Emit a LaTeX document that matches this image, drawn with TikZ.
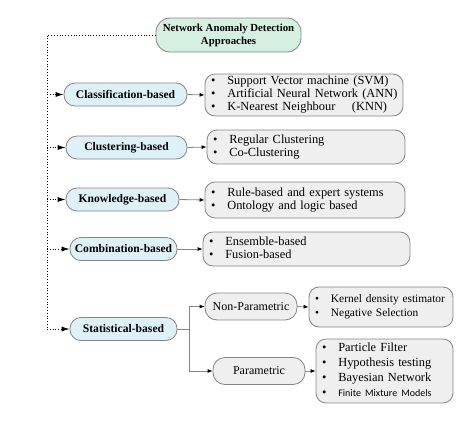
\documentclass[tikz,border=0pt]{standalone}
\usepackage{fontspec}
\setmainfont{Liberation Serif}
\newfontfamily\carlito{Carlito}
\usetikzlibrary{arrows.meta,positioning}
\definecolor{rootGreen}{HTML}{D5F0E0}
\definecolor{catBlue}{HTML}{DEF0F8}
\definecolor{itemGray}{HTML}{EFEFEF}
\definecolor{edgeGray}{HTML}{858585}
\newcommand{\myBullets}[1]{\noindent\begin{tabular}{@{}l@{\hspace{12pt}}l@{}}#1\end{tabular}}
\tikzset{
myRoot/.style={
	rectangle,rounded corners=14pt,draw=edgeGray,fill=rootGreen,thick,
	align=center,font=\bfseries\fontsize{10.8}{13}\selectfont,
	minimum width=145pt,minimum height=34pt,inner sep=1pt
}
, myCat/.style={
	rectangle,rounded corners=11pt,draw=edgeGray,fill=catBlue,thick,
	font=\bfseries\fontsize{11.6}{13}\selectfont,
	minimum width=#1,minimum height=23pt,inner sep=1pt
}
, myItems/.style={
	rectangle,rounded corners=10pt,draw=edgeGray,fill=itemGray,thick,
	align=left,text width=#1,inner xsep=6pt,inner ysep=1pt,
	font=\fontsize{12.4}{13}\selectfont
}
, mySub/.style={
	rectangle,rounded corners=12pt,draw=edgeGray,fill=itemGray,thick,
	font=\fontsize{12}{13}\selectfont,
	minimum width=92pt,minimum height=27pt,inner sep=1pt
}
% links
, myTrunk/.style={dotted,thick,black}
, myBranch/.style={dotted,thick,black,-{Latex[length=8pt,width=5pt]}}
, myLink/.style={edgeGray,thick,-{Latex[black,length=5pt,width=4pt]}}
, mySplit/.style={edgeGray,thick}
}
\begin{document}
\begin{tikzpicture}[x=1pt,y=-1pt]
	\useasboundingbox (0,0) rectangle (474,424);
	% root
	\node[myRoot] (Root) at (228.5,35) {Network Anomaly Detection\\Approaches};
	% categories
	\node[myCat=123pt] (Classif) at (125.5,94.5) {Classification-based};
	\node[myCat=121pt] (Cluster) at (126.5,147.5) {Clustering-based};
	\node[myCat=113pt] (Knowl) at (122.5,199.5) {Knowledge-based};
	\node[myCat=107pt] (Combi) at (123.5,249) {Combination-based};
	\node[myCat=107pt] (Stat) at (123.5,329) {Statistical-based};
	% item lists
	\node[myItems=186pt,minimum height=42pt] (ClassifList) at (304,95) {\myBullets{
		\textbullet & Support Vector machine (SVM)\\
		\textbullet & Artificial Neural Network (ANN)\\
		\textbullet & K-Nearest Neighbour\quad\ (KNN)}};
	\node[myItems=186pt,minimum height=34pt] (ClusterList) at (306,147) {\myBullets{
		\textbullet & Regular Clustering\\
		\textbullet & Co-Clustering}};
	\node[myItems=188pt,minimum height=36pt] (KnowlList) at (305,200) {\myBullets{
		\textbullet & Rule-based and expert systems\\
		\textbullet & Ontology and logic based}};
	\node[myItems=195pt,minimum height=34pt] (CombiList) at (306.5,249) {\myBullets{
		\textbullet & Ensemble-based\\
		\textbullet & Fusion-based}};
	% statistical
	\node[mySub] (NonPar) at (251,306.5) {Non-Parametric};
	\node[mySub] (Par) at (259,371) {Parametric};
	\node[myItems=132pt,minimum height=40pt,font=\fontsize{11.4}{13}\selectfont] (NonParList) at (381,307) {\myBullets{
		\textbullet & Kernel density estimator\\[1pt]
		\textbullet & Negative Selection}};
	\node[myItems=125pt,minimum height=64pt] (ParList) at (384.5,371) {\myBullets{
		\textbullet & Particle Filter\\[2pt]
		\textbullet & Hypothesis testing\\[2pt]
		\textbullet & Bayesian Network\\[2pt]
		\textbullet & {\carlito\fontsize{10}{12}\selectfont Finite Mixture Models}}};
	% trunk
	\coordinate (Trunk) at (47,0);
	\coordinate (Split) at (189,0);
	\draw[myTrunk] (Root.west) -| (Trunk |- Stat.west);
	\foreach \c in {Classif,Cluster,Knowl,Combi,Stat}
		\draw[myBranch] (Trunk |- \c.west) -- (\c.west);
	% links
	\foreach \c in {Classif,Cluster,Knowl,Combi,NonPar,Par}
		\draw[myLink] (\c.east) -- (\c List.west);
	\draw[mySplit] (Stat.east) -- (Split |- Stat.east);
	\draw[myLink] (Split |- Stat.east) |- (NonPar.west);
	\draw[myLink] (Split |- Stat.east) |- (Par.west);
\end{tikzpicture}
\end{document}
